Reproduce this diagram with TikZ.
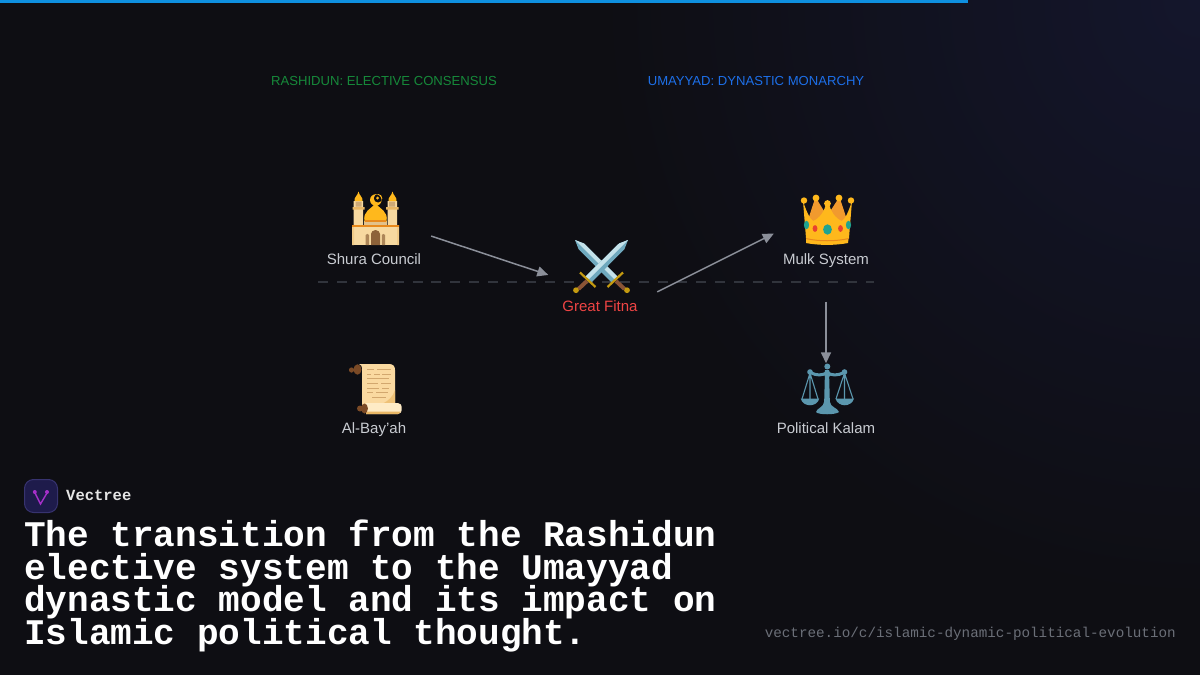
\documentclass[tikz,border=0pt]{standalone}
\usepackage{fontspec}
\setmainfont{Liberation Sans}
\newfontfamily\monof{Liberation Mono}
\usetikzlibrary{arrows.meta}
\normallineskiplimit=-100pt
\lineskiplimit=-100pt
\definecolor{bgbase}{HTML}{0E0E13}
\definecolor{bgglow}{HTML}{14162C}
\definecolor{barblue}{HTML}{0E90E0}
\definecolor{gridline}{HTML}{31343C}
\definecolor{flow}{HTML}{8B8F99}
\definecolor{lab}{HTML}{C9CCD2}
\definecolor{fitnared}{HTML}{EF4444}
\definecolor{rashgreen}{HTML}{16893A}
\definecolor{umayblue}{HTML}{1D6FE8}
\definecolor{urlgray}{HTML}{6B6F78}
\definecolor{sand}{HTML}{F7D9A0}
\definecolor{sanddk}{HTML}{E9B765}
\definecolor{gold}{HTML}{FFB81C}
\definecolor{golddk}{HTML}{E8891C}
\definecolor{brownd}{HTML}{8D6239}
\definecolor{crownor}{HTML}{F19A2E}
\definecolor{blade}{HTML}{C4E2EA}
\definecolor{bladedk}{HTML}{6FA9BE}
\definecolor{hilt}{HTML}{C49A10}
\definecolor{grip}{HTML}{8A5436}
\definecolor{scaleb}{HTML}{5B97AE}
\definecolor{paper}{HTML}{FAD9A0}
\definecolor{paperlt}{HTML}{FEEBC6}
\definecolor{ink}{HTML}{D2A76E}
\definecolor{knob}{HTML}{7B4A26}
\definecolor{logobg}{HTML}{1E1B4B}
\definecolor{logoln}{HTML}{37336F}
\definecolor{logov}{HTML}{A62FC9}
\definecolor{gemteal}{HTML}{1FA38F}
\definecolor{gemred}{HTML}{E8412E}
\tikzset{
 nodelabel/.style={font=\fontsize{15}{18}\selectfont,text=lab,inner sep=0pt,anchor=base},
 sectionhead/.style={font=\fontsize{13.1}{16}\selectfont,inner sep=0pt,anchor=center},
 port/.style={inner sep=0pt,minimum size=0pt},
 flowline/.style={draw=flow,line width=1.5pt,-{Triangle[length=11pt,width=10pt]}},
 divider/.style={draw=gridline,line width=2pt,dash pattern=on 10pt off 8.9pt},
 titleblock/.style={font=\monof\bfseries\fontsize{36.05}{32.5}\selectfont,text=white,inner sep=0pt,anchor=north west,align=left},
}
\begin{document}
\begin{tikzpicture}[x=1pt,y=-1pt]
\useasboundingbox (0,0) rectangle (1200,675);
\fill[bgbase] (0,0) rectangle (1200,675);
\begin{scope}
\clip (0,0) rectangle (1200,675);
\shade[inner color=bgglow,outer color=bgbase] (1200,0) circle (600);
\end{scope}
\fill[barblue] (0,0) rectangle (968,3);

\node[sectionhead,text=rashgreen] (rash) at (384,81) {RASHIDUN: ELECTIVE CONSENSUS};
\node[sectionhead,text=umayblue] (umay) at (756,81) {UMAYYAD: DYNASTIC MONARCHY};

\coordinate (divL) at (318,282);
\coordinate (divR) at (874,282);
\draw[divider] (divL) -- (divR);

% mosque
\fill[sand] (352,225) rectangle (399,245);
\fill[sand!60!sanddk] (352,225) rectangle (354,245) (397,225) rectangle (399,245);
\fill[sand] (353.5,201) rectangle (363,225) (387.5,201) rectangle (397,225);
\fill[sanddk] (352.5,207) rectangle (364.5,209.5) (386,207) rectangle (398.5,209.5);
\fill[brownd!40!sand] (355.5,201.5) rectangle (361.5,206.5) (389,201.5) rectangle (395,206.5);
\fill[gold] (354.5,201) .. controls (354,197) and (357.5,196) .. (358.5,191.5) .. controls (359.5,196) and (363,197) .. (362.5,201) -- cycle;
\fill[gold] (388.5,201) .. controls (388,197) and (391.5,196) .. (392.5,191.5) .. controls (393.5,196) and (397,197) .. (396.5,201) -- cycle;
\fill[sand!80!brownd] (364,221) rectangle (387,225);
\fill[gold] (364.5,221.5) .. controls (362.5,211) and (371,209) .. (375.5,203.5) .. controls (380,209) and (388.5,211) .. (386.5,221.5) -- cycle;
\fill[golddk] (365,220) rectangle (386,221.5);
\fill[golddk] (352,225) rectangle (399,227);
\fill[gold,even odd rule] (375.8,200) circle (5.8) (378,198.3) circle (4.3);
\fill[gold] (377.6,198) circle (1.6);
\fill[brownd] (371,245) -- (371,234) .. controls (371,231.5) and (373,230.5) .. (375.5,230) .. controls (378,230.5) and (380,231.5) .. (380,234) -- (380,245) -- cycle;
\fill[brownd!70!sand] (365.7,245) -- (365.7,235) .. controls (365.7,233.5) and (369,233.5) .. (369,235) -- (369,245) -- cycle;
\fill[brownd!70!sand] (381.8,245) -- (381.8,235) .. controls (381.8,233.5) and (385.1,233.5) .. (385.1,235) -- (385.1,245) -- cycle;

% crossed swords
\fill[bladedk] (575,240) -- (578.5,249) -- (612,283) -- (618,277) -- (584,243.5) -- cycle;
\fill[blade] (575,240) -- (584,243.5) -- (618,277) -- (615,280) -- cycle;
\draw[hilt,line width=2.2pt] (623,272.5) -- (607.5,287);
\draw[grip,line width=4pt] (616,281) -- (624.5,289);
\fill[hilt] (627,290.2) circle (2.9);
\fill[bladedk] (628,240) -- (624.5,249) -- (591,283) -- (585,277) -- (619,243.5) -- cycle;
\fill[blade] (628,240) -- (619,243.5) -- (585,277) -- (588,280) -- cycle;
\draw[hilt,line width=2.2pt] (580,272.5) -- (595.5,287);
\draw[grip,line width=4pt] (587,281) -- (578.5,289);
\fill[hilt] (576,290.2) circle (2.9);

% crown
\fill[crownor] (806,226) -- (815.5,197) -- (827,216) -- (839.5,197) -- (849,226) -- cycle;
\fill[gold] (803,201) .. controls (806,210) and (809,218) .. (813,221) .. controls (819,219) and (825,211) .. (826,203) -- (829,203) .. controls (830,211) and (836,219) .. (842,221) .. controls (846,218) and (849,210) .. (852,201) -- (849,238) -- (806,238) -- cycle;
\fill[gold] (806,243) .. controls (818,245.5) and (836,245.5) .. (848,243) -- (849,235) .. controls (836,239) and (818,239) .. (806,235) -- cycle;
\draw[golddk,line width=1pt] (806,238.5) .. controls (818,241.5) and (836,241.5) .. (849,238.5);
\fill[gold] (804,200.5) circle (3.2) (816,198) circle (3.4) (827.5,203.5) circle (3.4) (839,198) circle (3.4) (851,200.5) circle (3.2);
\fill[gemteal] (827.5,229.5) ellipse (4.4 and 5.2);
\fill[gemteal] (806.5,225) ellipse (2.6 and 4.2) (848.5,225) ellipse (2.6 and 4.2);
\fill[gemred] (815,228.5) ellipse (2.4 and 3.4) (840.5,228.5) ellipse (2.4 and 3.4);

% scroll
\fill[knob] (351.5,370) circle (2.6);
\fill[knob] (357.5,369.5) ellipse (4 and 5.2);
\fill[paper] (359,364) -- (389,364) .. controls (393,364) and (395,366) .. (395,370) -- (395,406) -- (362,406) -- (362,368) .. controls (362,366) and (361,365) .. (359,364) -- cycle;
\fill[sanddk!70!paper] (395,390) -- (395,404) -- (382,404) .. controls (388,401) and (393,397) .. (395,390) -- cycle;
\fill[paperlt] (366,403) -- (398,403) .. controls (400.5,403) and (401.7,405) .. (401.7,408.5) .. controls (401.7,412) and (400.5,414) .. (398,414) -- (366,414) -- cycle;
\fill[sanddk] (366,411.5) -- (400.8,411.5) .. controls (400,413) and (399,414) .. (398,414) -- (366,414) -- cycle;
\fill[knob] (360,408.5) circle (3) (364.5,408.5) ellipse (3.4 and 5);
\draw[ink,line width=1pt] (367,369.5) -- (374,369.5) (377,369.5) -- (391,369.5) (367,374) -- (371,374) (374,374) -- (380,374) (382,374) -- (391,374) (367,378.5) -- (389,378.5) (367,383) -- (378,383) (381,383) -- (391,383) (367,388) -- (379,388) (382,388) -- (389,388) (367,392.5) -- (373,392.5) (376,392.5) -- (388,392.5) (372,397.5) -- (386,397.5);

% scales
\begin{scope}[scaleb]
\fill (825,370) -- (829,370) -- (830,408) -- (824,408) -- cycle;
\fill (827.3,366.5) circle (3);
\fill (827.3,374) circle (3.4);
\draw[line width=3pt] (810,372) .. controls (817,376.5) and (822,375) .. (827,373) .. controls (832,375) and (837,376.5) .. (844.5,372);
\fill (810,372) circle (2.8) (844.5,372) circle (2.8);
\draw[line width=1.1pt] (810,373) -- (802,399) (810,373) -- (818,399) (810,373) -- (810,399)
  (844.5,373) -- (836,399) (844.5,373) -- (853,399) (844.5,373) -- (844.5,399);
\fill (800.7,398.5) .. controls (803,407.5) and (817,407.5) .. (819.3,398.5) -- cycle;
\fill (835.5,398.5) .. controls (838,407.5) and (851.5,407.5) .. (854,398.5) -- cycle;
\fill (824,402) -- (830,402) .. controls (830,407) and (838,408) .. (839,412) .. controls (836,415) and (818,415) .. (816,412) .. controls (817,408) and (824,407) .. (824,402) -- cycle;
\end{scope}

\node[nodelabel] (shura) at (374,264) {Shura Council};
\node[nodelabel,text=fitnared] (fitna) at (600,311) {Great Fitna};
\node[nodelabel] (mulk) at (826,264) {Mulk System};
\node[nodelabel] (bayah) at (374,433) {Al-Bay'ah};
\node[nodelabel] (kalam) at (826,433) {Political Kalam};

\node[port] (shuraOut) at (431,236) {};
\node[port] (fitnaIn) at (548.5,275) {};
\node[port] (fitnaOut) at (657,292) {};
\node[port] (mulkIn) at (774,233.5) {};
\node[port] (mulkOut) at (826,301.5) {};
\node[port] (kalamIn) at (826,363.5) {};
\draw[flowline] (shuraOut) -- (fitnaIn);
\draw[flowline] (fitnaOut) -- (mulkIn);
\draw[flowline] (mulkOut) -- (kalamIn);

% brand
\node[draw=logoln,fill=logobg,line width=1pt,rounded corners=9pt,minimum width=33pt,minimum height=33pt,inner sep=0pt] (logo) at (41,496) {};
\draw[logov,line width=1.4pt,line cap=round] (35,493) -- (40.5,504) -- (47,493);
\fill[logov] (34.8,492) circle (2) (47,492) circle (2);
\node[font=\monof\bfseries\fontsize{15.5}{18}\selectfont,text=white!90!black,inner sep=0pt,anchor=base west] (brand) at (66,500) {Vectree};

\node[titleblock] (title) at (24,520) {The transition from the Rashidun\\elective system to the Umayyad\\dynastic model and its impact on\\Islamic political thought.};

\node[font=\monof\fontsize{14.27}{18}\selectfont,text=urlgray,inner sep=0pt,anchor=base east] (url) at (1176,637.5) {vectree.io/c/islamic-dynamic-political-evolution};
\end{tikzpicture}
\end{document}
